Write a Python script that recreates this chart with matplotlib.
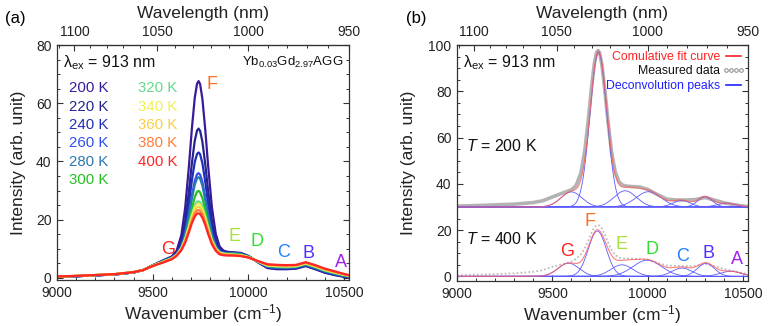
import numpy as np
import matplotlib
matplotlib.use('Agg')
import matplotlib.pyplot as plt
from matplotlib.ticker import MultipleLocator
from matplotlib.lines import Line2D

plt.rcParams['font.family'] = ['Liberation Sans', 'DejaVu Sans']
plt.rcParams['mathtext.fontset'] = 'custom'
plt.rcParams['mathtext.rm'] = 'Liberation Sans'
plt.rcParams['mathtext.it'] = 'Liberation Sans:italic'
plt.rcParams['mathtext.bf'] = 'Liberation Sans:bold'

# ---------------- data ----------------
wavenumber = [9000, 9100, 9200, 9300, 9400, 9450, 9500, 9550, 9600, 9625, 9650, 9670, 9690, 9705,
              9720, 9732, 9740, 9748, 9760, 9775, 9790, 9810, 9830, 9850, 9870, 9890, 9920, 9960,
              10000, 10050, 10100, 10150, 10200, 10250, 10300, 10350, 10400, 10450, 10500, 10526]

temperatures = ['200 K', '220 K', '240 K', '260 K', '280 K', '300 K',
                '320 K', '340 K', '360 K', '380 K', '400 K']

I200 = [0.4, 0.6, 0.9, 1.2, 1.9, 2.7, 4.3, 5.9,
        7.4, 9.3, 14.7, 24.1, 38.7, 51.3, 61.8, 66.7, 67.6, 66.6, 61.5, 50.9, 38.5, 24.1, 15.1, 10.8, 9.4, 9.0,
        8.8, 8.6, 7.6, 5.4, 3.4, 3.0, 3.0, 3.2, 4.1, 3.0, 1.8, 1.0, 0.4, 0.2]
I220 = [0.4, 0.6, 0.9, 1.2, 1.9, 2.7, 4.3, 5.8,
        7.2, 8.7, 12.7, 19.5, 30.1, 39.4, 47.1, 50.6, 51.3, 50.5, 46.8, 39.0, 29.9, 19.5, 13.0, 10.0, 9.1, 8.8,
        8.7, 8.5, 7.5, 5.4, 3.5, 3.2, 3.1, 3.3, 4.2, 3.1, 1.9, 1.1, 0.5, 0.3]
I240 = [0.4, 0.6, 0.9, 1.2, 1.9, 2.7, 4.3, 5.8,
        7.1, 8.4, 11.6, 17.2, 25.9, 33.5, 39.8, 42.6, 43.1, 42.5, 39.4, 33.0, 25.6, 17.1, 11.9, 9.5, 8.9, 8.7,
        8.6, 8.4, 7.5, 5.5, 3.7, 3.3, 3.3, 3.5, 4.4, 3.3, 2.1, 1.3, 0.6, 0.4]
I260 = [0.4, 0.6, 0.9, 1.2, 1.9, 2.7, 4.2, 5.7,
        7.0, 8.1, 10.7, 15.2, 22.2, 28.3, 33.3, 35.6, 36.0, 35.5, 33.0, 27.8, 21.8, 15.0, 11.0, 9.1, 8.7, 8.5,
        8.5, 8.3, 7.4, 5.5, 3.8, 3.5, 3.4, 3.6, 4.5, 3.4, 2.2, 1.4, 0.7, 0.4]
I280 = [0.4, 0.6, 0.9, 1.2, 1.9, 2.7, 4.2, 5.6,
        6.9, 8.0, 10.5, 14.8, 21.4, 27.2, 32.0, 34.2, 34.6, 34.1, 31.7, 26.7, 21.0, 14.5, 10.7, 8.9, 8.5, 8.4,
        8.4, 8.2, 7.4, 5.6, 3.9, 3.6, 3.6, 3.7, 4.6, 3.6, 2.4, 1.5, 0.8, 0.5]
I300 = [0.5, 0.7, 1.0, 1.3, 2.0, 2.7, 4.2, 5.6,
        6.8, 7.8, 9.9, 13.4, 18.9, 23.8, 27.8, 29.6, 29.9, 29.4, 27.4, 23.3, 18.5, 13.1, 10.0, 8.6, 8.3, 8.3,
        8.3, 8.1, 7.3, 5.6, 4.1, 3.8, 3.7, 3.9, 4.8, 3.7, 2.5, 1.7, 0.9, 0.6]
I320 = [0.5, 0.7, 1.0, 1.3, 2.0, 2.7, 4.2, 5.5,
        6.8, 8.0, 10.3, 13.5, 18.1, 21.9, 24.9, 26.2, 26.3, 26.0, 24.5, 21.4, 17.6, 13.2, 10.3, 8.8, 8.4, 8.2,
        8.1, 7.9, 7.2, 5.6, 4.2, 3.9, 3.8, 4.0, 4.9, 3.8, 2.6, 1.8, 1.0, 0.7]
I340 = [0.5, 0.7, 1.0, 1.3, 2.0, 2.7, 4.2, 5.4,
        6.7, 7.9, 10.1, 13.3, 17.7, 21.2, 24.1, 25.3, 25.5, 25.2, 23.7, 20.7, 17.1, 12.8, 10.1, 8.7, 8.3, 8.1,
        8.0, 7.8, 7.2, 5.7, 4.3, 4.1, 4.0, 4.1, 5.0, 4.0, 2.8, 1.9, 1.1, 0.8]
I360 = [0.5, 0.7, 1.0, 1.3, 2.0, 2.7, 4.1, 5.3,
        6.6, 7.8, 9.9, 12.9, 17.0, 20.4, 23.1, 24.2, 24.4, 24.1, 22.7, 19.8, 16.4, 12.4, 9.8, 8.5, 8.1, 8.0,
        7.9, 7.7, 7.1, 5.7, 4.4, 4.2, 4.1, 4.2, 5.1, 4.1, 2.9, 2.0, 1.2, 0.8]
I380 = [0.5, 0.7, 1.0, 1.3, 2.0, 2.7, 4.1, 5.3,
        6.5, 7.7, 9.7, 12.5, 16.4, 19.6, 22.2, 23.2, 23.3, 23.0, 21.8, 19.0, 15.8, 12.0, 9.6, 8.3, 8.0, 7.9,
        7.8, 7.6, 7.1, 5.8, 4.6, 4.4, 4.3, 4.4, 5.3, 4.3, 3.1, 2.2, 1.3, 0.9]
I400 = [0.5, 0.7, 1.0, 1.3, 2.0, 2.7, 4.1, 5.2,
        6.4, 7.6, 9.5, 12.1, 15.8, 18.8, 21.1, 22.1, 22.2, 21.9, 20.7, 18.2, 15.1, 11.5, 9.3, 8.1, 7.8, 7.7,
        7.7, 7.5, 7.0, 5.8, 4.7, 4.5, 4.4, 4.5, 5.4, 4.4, 3.2, 2.3, 1.4, 1.0]

spectra = [I200, I220, I240, I260, I280, I300, I320, I340, I360, I380, I400]
colors = ['#3a1a9a', '#24248f', '#1f2fb5', '#2f4ff0', '#2a78b0', '#22c022',
          '#66d98c', '#f0f050', '#f7d046', '#ff7f3a', '#ff2626']

# deconvolution components (Gaussian fit parameters) G F E D C B A
peak_labels = ['G', 'F', 'E', 'D', 'C', 'B', 'A']
peak_colors = ['#ff2020', '#ff7020', '#a8e040', '#30e030', '#2080ff', '#5030ff', '#a020f0']
c200_center = [9600, 9742, 9882, 10005, 10178, 10301, 10415]
c200_amp = [6.5, 66.8, 7.0, 6.6, 2.8, 4.4, 1.6]
c200_sigma = [55, 44, 58, 66, 45, 38, 50]
c400_center = [9585, 9736, 9865, 9998, 10180, 10305, 10435]
c400_amp = [5.7, 19.6, 5.0, 7.0, 3.6, 5.6, 2.2]
c400_sigma = [55, 47, 58, 75, 52, 45, 55]

# letter label positions (panel a and b)
lab_a_x = [9580, 9809, 9930, 10046, 10183, 10314, 10483]
lab_a_y = [9.8, 66.3, 14.2, 12.5, 8.8, 8.5, 5.2]
lab_b_x = [9575, 9697, 9864, 10021, 10183, 10318, 10470]
lab_b_y = [10.7, 23.6, 13.6, 11.4, 8.6, 9.7, 7.2]

offset_200 = 30.0

# ---------------- figure ----------------
fig = plt.figure(figsize=(7.68, 3.26), dpi=100)
axa = fig.add_axes([57/768, 1-280/326, 292/768, 235/326])
axb = fig.add_axes([457/768, 1-281/326, 291/768, 236/326])

def to_nm(x):
    x = np.asarray(x, dtype=float)
    with np.errstate(divide='ignore'):
        return 1e7 / x

spine_col = '#333333'

def style(ax, ylim, ymaj, ymin):
    ax.set_xlim(9000, 1e7/950)
    ax.set_ylim(*ylim)
    ax.xaxis.set_major_locator(MultipleLocator(500))
    ax.xaxis.set_minor_locator(MultipleLocator(100))
    ax.yaxis.set_major_locator(MultipleLocator(ymaj))
    ax.yaxis.set_minor_locator(MultipleLocator(ymin))
    ax.tick_params(which='both', direction='in', top=False, right=True,
                   labelsize=10, colors=spine_col, labelcolor='#222222')
    ax.tick_params(which='major', length=4, width=0.8, pad=4)
    ax.tick_params(which='minor', length=2.2, width=0.7)
    for s in ax.spines.values():
        s.set_color(spine_col)
        s.set_linewidth(0.9)
    sec = ax.secondary_xaxis('top', functions=(to_nm, to_nm))
    sec.set_xticks([1100, 1050, 1000, 950])
    sec.set_xticks(np.arange(950, 1111, 10), minor=True)
    sec.tick_params(which='both', direction='in', labelsize=10, colors=spine_col,
                    labelcolor='#222222')
    sec.tick_params(which='major', length=4, width=0.8, pad=4)
    sec.tick_params(which='minor', length=2.2, width=0.7)
    sec.spines['top'].set_color(spine_col)
    sec.set_xlabel('Wavelength (nm)', fontsize=12.5, labelpad=5, color='#222222')
    ax.set_xlabel('Wavenumber (cm$^{-1}$)', fontsize=12.5, labelpad=2, color='#222222')
    ax.set_ylabel('Intensity (arb. unit)', fontsize=12.5, color='#222222')
    ax.yaxis.set_label_coords(-0.105, 0.5)

# ---- panel (a)
style(axa, (-0.7, 80), 20, 5)
lines = []
for spec, col, lab in zip(spectra, colors, temperatures):
    ln, = axa.plot(wavenumber, spec, color=col, lw=1.6, label=lab, solid_joinstyle='round')
    lines.append(ln)
leg = axa.legend(handles=lines, ncol=2, loc='upper left', bbox_to_anchor=(0.041, 0.845),
                 frameon=False, handlelength=0, handletextpad=0, borderpad=0,
                 borderaxespad=0, labelspacing=0.29, columnspacing=2.0,
                 labelcolor=colors, fontsize=10.8)
for h in leg.legend_handles:
    h.set_visible(False)
axa.text(0.02, 0.925, 'λ$_{\\rm ex}$ = 913 nm', transform=axa.transAxes,
         fontsize=11.5, va='center', ha='left', color='#111111')
axa.text(0.98, 0.925, r'Yb$_{0.03}$Gd$_{2.97}$AGG', transform=axa.transAxes,
         fontsize=9.5, va='center', ha='right', color='#111111')
for x, y, t, c in zip(lab_a_x, lab_a_y, peak_labels, peak_colors):
    axa.text(x, y, t, color=c, fontsize=13, ha='center', va='center')
fig.text(15/768, 1-19/326, '(a)', fontsize=12, ha='center', va='center')

# ---- panel (b)
style(axb, (-2, 100), 20, 5)
xs = np.linspace(9000, 1e7/950, 800)

def gauss(x, c, a, s):
    return a * np.exp(-(x - c) ** 2 / (2 * s ** 2))

meas_col = '#ababab'
axb.plot(wavenumber, np.array(I200) + offset_200, color=meas_col, lw=2.6, alpha=0.9)
axb.plot(wavenumber, I400, color='#bdbdbd', lw=1.3, ls=(0, (1.0, 1.2)))

fit200 = np.zeros_like(xs)
for c, a, s in zip(c200_center, c200_amp, c200_sigma):
    g = gauss(xs, c, a, s)
    fit200 += g
    axb.plot(xs, g + offset_200, color='#5a5aff', lw=0.6)
fit400 = np.zeros_like(xs)
for c, a, s in zip(c400_center, c400_amp, c400_sigma):
    g = gauss(xs, c, a, s)
    fit400 += g
    axb.plot(xs, g, color='#5a5aff', lw=0.6)
axb.plot(xs, fit200 + offset_200, color='#ff6060', lw=0.8, alpha=0.8)
axb.plot(xs, fit400, color='#ff6060', lw=0.8, alpha=0.8)

h_fit = Line2D([], [], color='#ff2020', lw=1.2)
h_meas = Line2D([], [], color='#888888', ls='none', marker='o', ms=2.6, mfc='none', mew=0.7)
h_dec = Line2D([], [], color='#2020ff', lw=1.2)
axb.legend([h_fit, h_meas, h_dec], ['Comulative fit curve', 'Measured data', 'Deconvolution peaks'],
           loc='upper right', bbox_to_anchor=(0.988, 0.975), frameon=False, markerfirst=False,
           numpoints=4, handlelength=1.8, handletextpad=0.2, borderpad=0, borderaxespad=0,
           labelspacing=0.2, fontsize=8.8, labelcolor=['#ff2020', '#111111', '#2020ff'])
axb.text(0.02, 0.925, 'λ$_{\\rm ex}$ = 913 nm', transform=axb.transAxes,
         fontsize=11.5, va='center', ha='left', color='#111111')
axb.text(0.032, 0.57, r'$T$ = 200 K', transform=axb.transAxes,
         fontsize=11.5, va='center', ha='left', color='#111111')
axb.text(0.032, 0.18, r'$T$ = 400 K', transform=axb.transAxes,
         fontsize=11.5, va='center', ha='left', color='#111111')
for x, y, t, c in zip(lab_b_x, lab_b_y, peak_labels, peak_colors):
    axb.text(x, y, t, color=c, fontsize=13, ha='center', va='center')
axb.yaxis.set_label_coords(-0.141, 0.5)
fig.text(416/768, 1-18/326, '(b)', fontsize=12, ha='center', va='center')

fig.savefig('out.png', dpi=100)
